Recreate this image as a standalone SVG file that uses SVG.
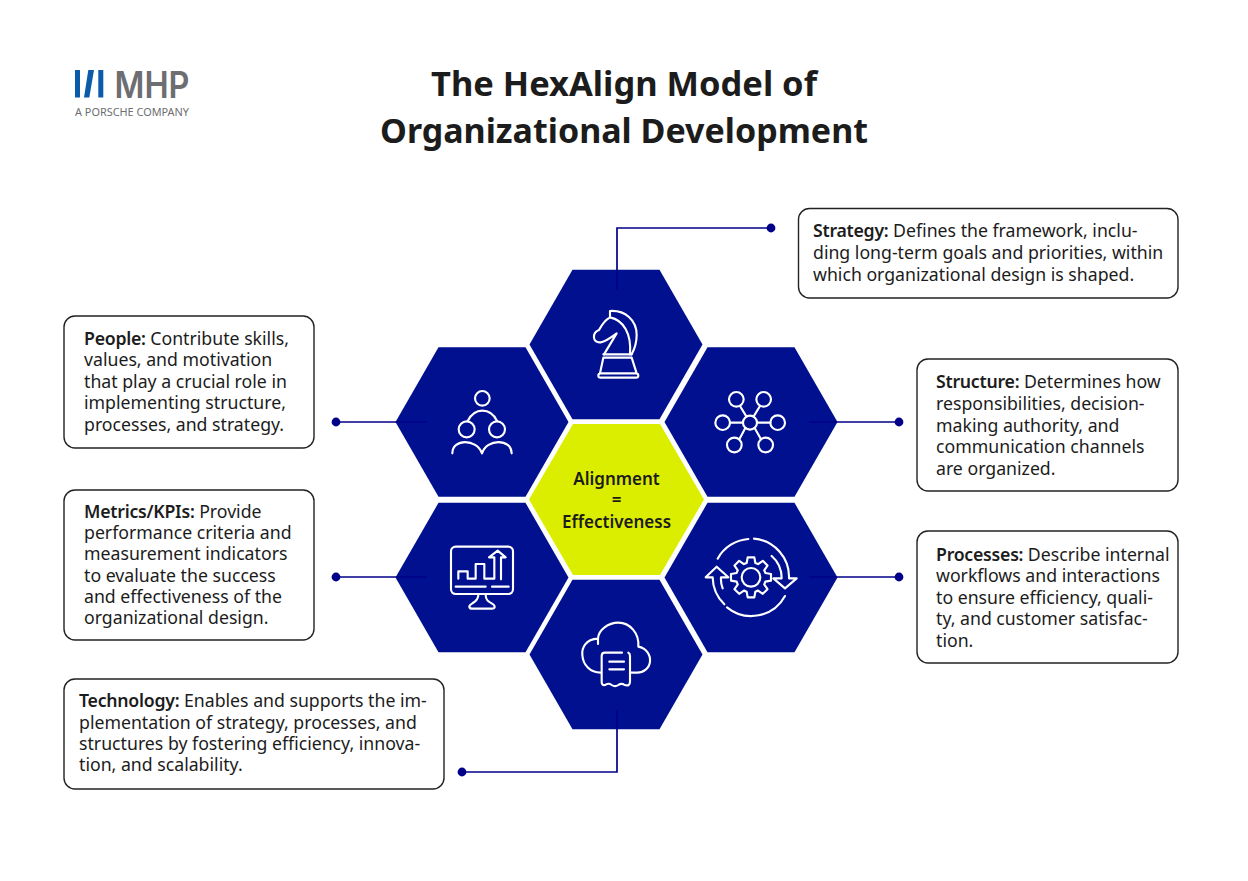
<svg xmlns="http://www.w3.org/2000/svg" width="1248" height="881" viewBox="0 0 1248 881">
<style>
text{font-family:"Noto Sans","Open Sans",sans-serif;fill:#1c1c1c}
.t{font-size:34px;font-weight:700;text-anchor:middle}
.b{font-size:17.7px}
.b tspan.h{font-weight:600;letter-spacing:-.25px}
.c{font-size:17px;font-weight:600;text-anchor:middle}
.box{fill:#fff;stroke:#222;stroke-width:1.4}
.hex{fill:#01108f}
.ic{fill:none;stroke:#fff;stroke-width:6.400;stroke-linecap:round;stroke-linejoin:round}
.ln{fill:none;stroke:#000088;stroke-width:1.700}
.dot{fill:#000088}
.lg{fill:#0b5ca8}
</style>
<defs>
<polygon id="hx" points="-86.500,0 -43.500,-74.700 43.500,-74.700 86.500,0 43.500,74.700 -43.500,74.700"/>
</defs>
<g id="logo">
<rect class="lg" x="75" y="70" width="5" height="27.500"/>
<polygon class="lg" points="88.300,70 94,70 89.300,97.500 84,97.500"/>
<rect class="lg" x="98.300" y="70" width="5" height="27.500"/>
<text x="114.500" y="97.500" font-size="37" font-weight="600" textLength="75" lengthAdjust="spacingAndGlyphs" style="font-family:'Inter',sans-serif;fill:#6d6e71">MHP</text>
<text x="75" y="116" font-size="10.500" textLength="114" lengthAdjust="spacingAndGlyphs" style="fill:#6d6e71">A PORSCHE COMPANY</text>
</g>
<g id="title">
<text class="t" x="624" y="96" textLength="386" lengthAdjust="spacingAndGlyphs">The HexAlign Model of</text>
<text class="t" x="624" y="143">Organizational Development</text>
</g>
<g id="hex-strategy"><use href="#hx" class="hex" x="616" y="344.500"/>
<g transform="translate(530,210) scale(.33333)" class="ic">
<path d="M240 322V303C285 300 320 330 320 375C320 400 312 420 305 433M240 322C280 330 305 370 300 433M240 322C225 330 215 345 207 360C186 368 186 400 212 397C225 395 240 385 260 370L222 433"/>
<path d="M220 433H305M220 443H305M220 443L210 490M305 443L320 490M212 490H318Q325 490 325 497Q325 503 318 503H212Q205 503 205 497Q205 490 212 490Z"/>
</g></g>
<g id="hex-people"><use href="#hx" class="hex" x="482" y="422"/>
<g transform="translate(395,345) scale(.33333)" class="ic">
<circle cx="262" cy="160" r="22"/><circle cx="215" cy="253" r="24"/><circle cx="306" cy="253" r="24"/>
<path d="M218 228C230 205 245 197 262 197C280 197 295 205 306 228M172 325C172 280 245 280 261 325C275 280 350 280 350 325"/>
</g></g>
<g id="hex-structure"><use href="#hx" class="hex" x="751" y="422"/>
<g transform="translate(665,345) scale(.33333)" class="ic">
<circle cx="255" cy="233" r="21"/><circle cx="214" cy="163" r="22"/><circle cx="296" cy="163" r="22"/><circle cx="173" cy="233" r="22"/><circle cx="338" cy="233" r="22"/><circle cx="208" cy="300" r="22"/><circle cx="302" cy="300" r="22"/>
<path d="M225 183L244 214M285 183L266 214M195 233H234M276 233H316M223 283L241 249M288 283L269 249"/>
</g></g>
<g id="hex-center"><polygon points="529,499.500 573,424 660,424 704,499.500 660,575 573,575" fill="#dcee00"/>
<text class="c" x="616.500" y="485">Alignment</text><text class="c" x="616.500" y="506">=</text><text class="c" x="616.500" y="528">Effectiveness</text></g>
<g id="hex-metrics"><use href="#hx" class="hex" x="482" y="577.500"/>
<g transform="translate(395,500) scale(.33333)" class="ic">
<rect x="168" y="140" width="186" height="142" rx="14"/>
<path d="M250 284C250 300 240 305 232 310C218 318 222 326 232 326H290C302 326 302 316 290 310C280 305 272 300 272 284M190 236V214H218V236H242V192H268V236H298V172H282L308 152L332 172H318V238M182 260H272M291 260H341"/>
</g></g>
<g id="hex-processes"><use href="#hx" class="hex" x="751" y="577.500"/>
<g transform="translate(665,500) scale(.33333)" class="ic">
<circle cx="258" cy="232" r="28"/>
<path transform="translate(258,232)" d="M-13-43L-10-60H10L13-43A45 45 0 0 1 21.200-39.600L35.400-49.500L49.500-35.400L39.600-21.200A45 45 0 0 1 43-13L60-10V10L43 13A45 45 0 0 1 39.600 21.200L49.500 35.400L35.400 49.500L21.200 39.600A45 45 0 0 1 13 43L10 60H-10L-13 43A45 45 0 0 1-21.200 39.600L-35.400 49.500L-49.500 35.400L-39.600 21.200A45 45 0 0 1-43 13L-60 10V-10L-43-13A45 45 0 0 1-39.600-21.200L-49.500-35.400L-35.400-49.500L-21.200-39.600A45 45 0 0 1-13-43Z"/>
<path d="M158 176A115 115 0 0 1 250 117M267 116A115 115 0 0 1 372 235H395L360 265L325 235H350C350 210 340 185 320 168M178 313A115 115 0 0 1 143 232H122L155 200L190 232H168C167 245 169 255 173 265M186 322A115 115 0 0 0 360 288"/>
</g></g>
<g id="hex-technology"><use href="#hx" class="hex" x="616" y="654.500"/>
<g transform="translate(530,580) scale(.33333)" class="ic">
<path d="M204 192V176C165 178 155 205 157 225C159 255 180 278 212 278M204 176C205 150 235 128 265 128C300 128 328 160 325 200C350 205 362 225 360 245C358 265 340 278 322 278H303"/>
<path d="M276 218H225Q215 218 215 228V305Q215 317 225 315C235 310 238 310 245 315C252 320 258 320 265 315C272 310 277 310 284 315Q300 320 300 305V228Q300 220 295 218M238 245H282M238 268H282"/>
</g></g>
<g id="connectors">
<path class="ln" d="M771 228H617V290M809 422H899M809 577H899M336 422H427M336 577H427M462 772H617V710"/>
<circle class="dot" cx="771" cy="228" r="4.400"/><circle class="dot" cx="899" cy="422" r="4.400"/><circle class="dot" cx="899" cy="577" r="4.400"/><circle class="dot" cx="336" cy="422" r="4.400"/><circle class="dot" cx="336" cy="577" r="4.400"/><circle class="dot" cx="462" cy="772" r="4.400"/>
</g>
<g id="node-strategy"><rect class="box" x="798.500" y="208.500" width="379.500" height="89.500" rx="11"/>
<text class="b" x="813" y="237"><tspan class="h">Strategy:</tspan> Defines the framework, inclu-</text><text class="b" x="813" y="259">ding long-term goals and priorities, within</text><text class="b" x="813" y="281">which organizational design is shaped.</text></g>
<g id="node-structure"><rect class="box" x="917" y="359" width="261" height="132" rx="11"/>
<text class="b" x="936" y="388"><tspan class="h">Structure:</tspan> Determines how</text><text class="b" x="936" y="410">responsibilities, decision-</text><text class="b" x="936" y="432">making authority, and</text><text class="b" x="936" y="453">communication channels</text><text class="b" x="936" y="475">are organized.</text></g>
<g id="node-processes"><rect class="box" x="917" y="531" width="261" height="132" rx="11"/>
<text class="b" x="936" y="561"><tspan class="h">Processes:</tspan> Describe internal</text><text class="b" x="936" y="582">workflows and interactions</text><text class="b" x="936" y="604">to ensure efficiency, quali-</text><text class="b" x="936" y="625">ty, and customer satisfac-</text><text class="b" x="936" y="647">tion.</text></g>
<g id="node-people"><rect class="box" x="64" y="316" width="250" height="132" rx="11"/>
<text class="b" x="84" y="345"><tspan class="h">People:</tspan> Contribute skills,</text><text class="b" x="84" y="366">values, and motivation</text><text class="b" x="84" y="388">that play a crucial role in</text><text class="b" x="84" y="409">implementing structure,</text><text class="b" x="84" y="431">processes, and strategy.</text></g>
<g id="node-metrics"><rect class="box" x="64" y="490" width="250" height="150" rx="11"/>
<text class="b" x="84" y="518"><tspan class="h">Metrics/KPIs:</tspan> Provide</text><text class="b" x="84" y="539">performance criteria and</text><text class="b" x="84" y="560">measurement indicators</text><text class="b" x="84" y="582">to evaluate the success</text><text class="b" x="84" y="603">and effectiveness of the</text><text class="b" x="84" y="624">organizational design.</text></g>
<g id="node-technology"><rect class="box" x="64" y="679" width="380" height="110" rx="11"/>
<text class="b" x="79" y="707"><tspan class="h">Technology:</tspan> Enables and supports the im-</text><text class="b" x="79" y="729">plementation of strategy, processes, and</text><text class="b" x="79" y="750">structures by fostering efficiency, innova-</text><text class="b" x="79" y="771">tion, and scalability.</text></g>
</svg>
